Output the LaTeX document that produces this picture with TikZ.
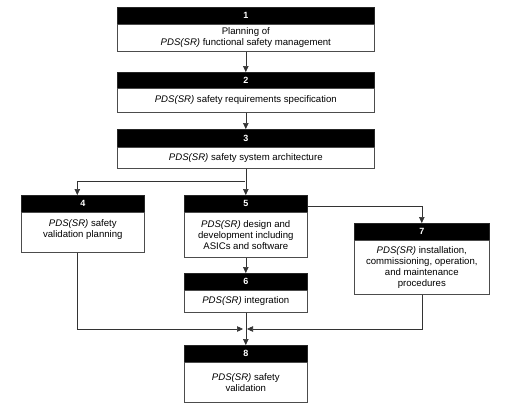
\documentclass[tikz,border=0pt]{standalone}
\usepackage{fontspec}
\setmainfont{Liberation Sans}
\usetikzlibrary{arrows.meta}
\newcommand\stagebox[8]{% name, x1, y1, x2, yh, y2, num, text
  \node[hdr, minimum width=#4-#2, minimum height=#5-#3] (h#1) at (#2,#3) {#7};
  \node[body, minimum width=#4-#2, minimum height=#6-#5] (b#1) at (#2,#5) {#8};}
\begin{document}
\begin{tikzpicture}[x=1pt,y=-1pt,
  hdr/.style={draw=black!85, fill=black, text=white, font=\bfseries\fontsize{9}{10}\selectfont, anchor=north west, inner sep=0pt, line width=0.6pt},
  body/.style={draw=black!70, fill=white, anchor=north west, inner sep=1pt, align=center, font=\fontsize{9.6}{11}\selectfont, line width=0.6pt},
  arr/.style={draw=black!80, line width=0.6pt, -{Triangle[length=6pt,width=5.5pt]}},
  ln/.style={draw=black!80, line width=0.6pt}]
\useasboundingbox (0,0) rectangle (512,405);
\stagebox{1}{117}{7}{374}{24}{51}{1}{Planning of\\\textit{PDS(SR)} functional safety management}
\stagebox{2}{117}{72}{374}{88}{112}{2}{\textit{PDS(SR)} safety requirements specification}
\stagebox{3}{117}{129}{374}{147}{168}{3}{\textit{PDS(SR)} safety system architecture}
\stagebox{4}{21}{195}{144}{212}{252}{4}{\textit{PDS(SR)} safety\\validation planning\\[-4pt]}
\stagebox{5}{184}{195}{307}{212}{257}{5}{\textit{PDS(SR)} design and\\development including\\ASICs and software}
\stagebox{6}{184}{273}{307}{290}{312}{6}{\textit{PDS(SR)} integration}
\stagebox{7}{354}{223}{489}{240}{294}{7}{\textit{PDS(SR)} installation,\\commissioning, operation,\\and maintenance\\procedures}
\stagebox{8}{184}{345}{307}{362}{402}{8}{\textit{PDS(SR)} safety\\validation}
\coordinate (j1) at (245,181);
\coordinate (m) at (245,329);
\draw[arr] (b1.south) -- (h2.north);
\draw[arr] (b2.south) -- (h3.north);
\draw[arr] (b3.south) -- (h5.north);
\draw[arr] (j1) -| ([xshift=-5.5pt]h4.north);
\draw[arr] ([yshift=-2.5pt]h5.east) -| (h7.north);
\draw[arr] (b5.south) -- (h6.north);
\draw[arr] ([xshift=-5.5pt]b4.south) |- ([xshift=-2pt]m);
\draw[arr] (b7.south) |- ([xshift=2pt]m);
\draw[arr] (b6.south) -- (h8.north);
\end{tikzpicture}
\end{document}
